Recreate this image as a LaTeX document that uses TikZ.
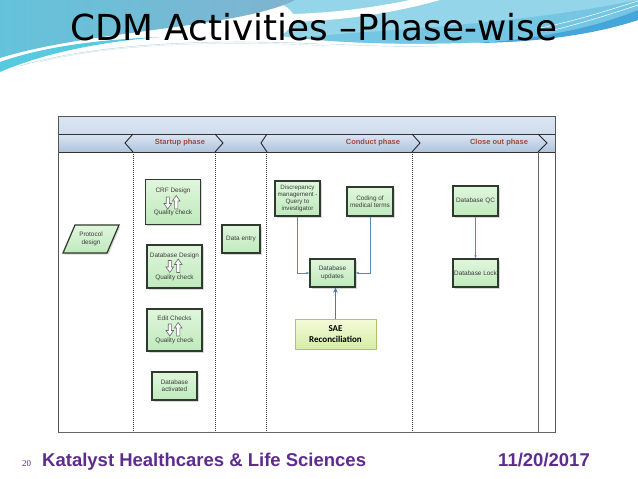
\documentclass[tikz,border=0pt]{standalone}
\usepackage{fontspec}
\setmainfont{Liberation Sans}
\newfontfamily\titlefont{DejaVu Sans}
\newfontfamily\calfont{Carlito}
\newfontfamily\pgfont{Liberation Serif}
\usetikzlibrary{shadows,arrows.meta}
\definecolor{boxline}{HTML}{2E3A2E}
\definecolor{boxtop}{HTML}{E0F6DC}
\definecolor{boxbot}{HTML}{BFEABD}
\definecolor{txtgray}{HTML}{3C3C3C}
\definecolor{phasered}{HTML}{9E4B3B}
\definecolor{bandA}{HTML}{CFDDEE}
\definecolor{bandC}{HTML}{DCE6F2}
\definecolor{bandD}{HTML}{AFC3DE}
\definecolor{framegray}{HTML}{555555}
\definecolor{connblue}{HTML}{5B86BE}
\definecolor{saeblue}{HTML}{4A78B5}
\definecolor{saetop}{HTML}{F4FAD9}
\definecolor{saebot}{HTML}{D6EDA6}
\definecolor{saeline}{HTML}{A9C46A}
\definecolor{footpurple}{HTML}{5E2C8E}
\definecolor{decoblue}{HTML}{80B3D0}
\definecolor{decocyan}{HTML}{58CADF}
\definecolor{decolt}{HTML}{94D5E9}
\definecolor{decomid}{HTML}{74C6E2}
\definecolor{decodark}{HTML}{45A6DA}
\definecolor{arrgray}{HTML}{6A6A6A}
\tikzset{
  gbox/.style={draw=boxline, line width=1.2pt, top color=boxtop, bottom color=boxbot,
    drop shadow={shadow xshift=1.5pt, shadow yshift=-1.5pt, opacity=.3},
    align=center, text=txtgray, inner sep=1pt,
    font=\fontsize{6.4}{7.4}\selectfont},
  phaselabel/.style={font=\bfseries\fontsize{7.5}{9}\selectfont, text=phasered, inner sep=0pt},
  lane/.style={draw=black!80, line width=0.9pt, dash pattern=on 0.9pt off 1.1pt},
  chev/.style={draw=black!85, line width=0.9pt},
  conn/.style={draw=connblue, line width=0.6pt, -{Latex[length=3pt,width=2.6pt]}},
  saeconn/.style={draw=saeblue, line width=0.9pt, -{Stealth[length=5pt,width=4.5pt,inset=1.5pt]}},
  dblarr/.pic={
    \draw[arrgray, fill=white, line width=0.6pt]
      (-5.8,-5.5) -- (-2.6,-5.5) -- (-2.6,1) -- (-0.4,1) -- (-4.2,6.5) -- (-8,1) -- (-5.8,1) -- cycle;
    \draw[arrgray, fill=white, line width=0.6pt]
      (2.6,6.5) -- (5.8,6.5) -- (5.8,-1.5) -- (8,-1.5) -- (4.2,-7) -- (0.4,-1.5) -- (2.6,-1.5) -- cycle;
  }
}
\begin{document}
\begin{tikzpicture}[x=1pt,y=-1pt]
\useasboundingbox (0,0) rectangle (638,479);
\fill[white] (0,0) rectangle (638,479);

% ---- top decoration ----
\path[fill=decolt] (270,0) -- (638,0) -- (638,10)
   .. controls (590,32) and (530,41) .. (460,43)
   .. controls (390,45) and (330,42) .. (280,36)
   .. controls (300,24) and (300,8) .. (270,0) -- cycle;
\path[fill=decomid] (300,38) .. controls (360,30) and (500,28) .. (638,0) -- (638,10)
   .. controls (590,32) and (530,41) .. (460,43)
   .. controls (390,45) and (330,42) .. (300,38) -- cycle;
\path[fill=white] (250,14) .. controls (320,16) and (370,8) .. (410,0) -- (440,0)
   .. controls (390,14) and (330,24) .. (250,22) -- cycle;
\path[fill=decodark] (470,43) .. controls (540,40) and (600,26) .. (638,10) -- (638,20)
   .. controls (600,33) and (540,43) .. (470,43) -- cycle;
\draw[white, line width=0.5pt] (540,28) .. controls (580,20) and (615,8) .. (638,1);
\draw[white, line width=0.5pt] (550,31) .. controls (590,21) and (620,11) .. (638,5);
\shade[left color=decocyan!70!decoblue, right color=decoblue] (0,0) -- (295,0)
   .. controls (240,28) and (90,30) .. (0,58) -- cycle;
\fill[decocyan] (0,62) .. controls (40,48) and (90,40) .. (160,37)
   .. controls (90,43) and (40,55) .. (0,72) -- cycle;
\draw[decoblue!60, line width=0.4pt] (20,66) .. controls (90,45) and (200,38) .. (320,44);
\draw[decoblue!40, line width=0.4pt] (40,62) .. controls (110,44) and (220,40) .. (330,46);
\draw[decoblue!50, line width=0.4pt] (330,44) .. controls (370,46) and (400,47) .. (440,46);

% ---- title ----
\node[anchor=base west, inner sep=0pt, font=\titlefont\fontsize{35.8}{40}\selectfont] (title) at (70,40) {CDM Activities –Phase-wise};

% ---- frame and bands ----
\shade[top color=bandC, bottom color=bandA] (58,116) rectangle (555,134);
\shade[top color=bandC, bottom color=bandD] (58,134) rectangle (555,152);
\draw[framegray, line width=0.8pt] (58,116) -- (555,116);
\draw[black!80, line width=0.9pt] (58,134) -- (555,134);
\draw[black!80, line width=0.9pt] (58,152) -- (555,152);
\draw[framegray, line width=1pt] (58,116) -- (58,433);
\draw[framegray, line width=1pt] (555,116) -- (555,433);
\draw[framegray!90, line width=1.5pt] (58,432.5) -- (555,432.5);
\draw[chev] (133,134) -- (125,143) -- (133,152);
\draw[chev] (215,134) -- (223,143) -- (215,152);
\draw[chev] (267,134) -- (261,143) -- (267,152);
\draw[chev] (412,134) -- (420,143) -- (412,152);
\draw[chev] (538,134) -- (547,143) -- (538,152);
\draw[lane] (133,152) -- (133,432);
\draw[lane] (215,152) -- (215,432);
\draw[lane] (266,152) -- (266,432);
\draw[lane] (412,152) -- (412,432);
\draw[framegray!90, line width=0.8pt] (538,152) -- (538,432);

\node[phaselabel] (ph1) at (180,143) {Startup phase};
\node[phaselabel] (ph2) at (373,143) {Conduct phase};
\node[phaselabel] (ph3) at (499,143) {Close out phase};

% ---- protocol design ----
\filldraw[boxline, line width=1.2pt, top color=boxtop, bottom color=boxbot,
   drop shadow={shadow xshift=1.5pt, shadow yshift=-1.5pt, opacity=.3}]
   (75,225) -- (119,225) -- (107,253) -- (63,253) -- cycle;
\node[align=center, text=txtgray, inner sep=0pt, font=\fontsize{6.4}{7.4}\selectfont] (proto) at (91,239) {Protocol\\design};

% ---- startup nodes ----
\node[gbox, minimum width=55pt, minimum height=45pt] (crf) at (173,202) {CRF Design\\[14.5pt]Quality check};
\pic at (172,202.5) {dblarr};
\node[gbox, minimum width=55pt, minimum height=43pt] (dbd) at (174.5,266.5) {Database Design\\[14.5pt]Quality check};
\pic at (174,266) {dblarr};
\node[gbox, minimum width=55pt, minimum height=42pt] (edit) at (174.5,330) {Edit Checks\\[14.5pt]Quality check};
\pic at (174,329.5) {dblarr};
\node[gbox, minimum width=45pt, minimum height=28pt] (dba) at (174.5,386) {Database\\activated};

\node[gbox, minimum width=38pt, minimum height=28pt] (entry) at (241,239) {Data entry};

% ---- conduct nodes ----
\node[gbox, minimum width=45pt, minimum height=35pt, font=\fontsize{6.2}{7.2}\selectfont] (disc) at (297.5,198.5) {Discrepancy\\management -\\Query to\\investigator};
\node[gbox, minimum width=46pt, minimum height=29pt] (code) at (370,201.5) {Coding of\\medical terms};
\node[gbox, minimum width=45pt, minimum height=28pt] (dbu) at (332.5,273) {Database\\updates};
\node[draw=saeline, line width=0.5pt, top color=saetop, bottom color=saebot,
   drop shadow={shadow xshift=1.2pt, shadow yshift=-1.2pt, opacity=.25},
   minimum width=81pt, minimum height=30pt, align=center, inner sep=1pt,
   font=\calfont\bfseries\fontsize{9}{11.5}\selectfont] (sae) at (335.5,334) {SAE\\Reconciliation};

% ---- close out nodes ----
\node[gbox, minimum width=45pt, minimum height=30pt] (qc) at (475.5,201) {Database QC};
\node[gbox, minimum width=45pt, minimum height=28pt] (lock) at (475.5,273) {Database Lock};

% ---- connectors ----
\draw[conn] (disc.south) |- (dbu.west);
\draw[conn] (code.south) |- (dbu.east);
\draw[conn] (qc.south) -- (lock.north);
\draw[saeconn] (sae.north) -- (sae.north |- dbu.south);

% ---- footer ----
\node[anchor=base west, inner sep=0pt, text=footpurple, font=\pgfont\fontsize{9}{10}\selectfont] (pg) at (22,466) {20};
\node[anchor=base west, inner sep=0pt, text=footpurple, font=\bfseries\fontsize{18.5}{22}\selectfont] (org) at (42,466) {Katalyst Healthcares \& Life Sciences};
\node[anchor=base east, inner sep=0pt, text=footpurple, font=\bfseries\fontsize{18.5}{22}\selectfont] (date) at (590,466) {11/20/2017};
\end{tikzpicture}
\end{document}
